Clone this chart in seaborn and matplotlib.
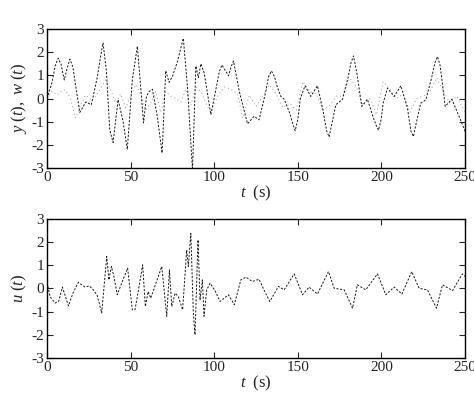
import matplotlib
matplotlib.use('Agg')
import matplotlib.pyplot as plt
import seaborn as sns
import pandas as pd

# y(t): system output (dashed)
y_t = [0, 3, 5, 6.7, 8.5, 10.3, 12, 13.7, 15.5, 17, 19.6, 23.2, 26.5, 30, 32, 33.5, 35.5,
       37.5, 39.5, 42.5, 45.5, 48, 51, 54, 56, 57.7, 59.5, 61, 63, 66, 68.8, 71, 73, 75, 78,
       81.5, 84, 87, 89, 90.5, 92, 94, 96, 98, 101, 103, 104.6, 108.5, 110, 111.5, 115,
       119.9, 123.8, 126.8, 130.5, 132.5, 134.2, 136, 137.5, 139.8, 141.8, 145, 147,
       148.4, 150, 151.5, 154.3, 157.7, 161.7, 165, 167.2, 168.7, 170.3, 172.7, 176.7,
       180, 181.8, 183.3, 185.5, 188.2, 191.6, 195, 196.8, 198.2, 199.8, 201, 203.6,
       207.6, 211.6, 215.5, 217.6, 219.1, 220.8, 223.5, 226.5, 230, 232, 233.5, 235,
       236.5, 238.1, 242.1, 246, 250]
y_v = [0, 0.7, 1.45, 1.74, 1.45, 0.8, 1.3, 1.7, 1.35, 0.6, -0.6, -0.15, -0.27, 0.9, 1.8,
       2.4, 1.2, -1.35, -1.9, -0.05, -1.0, -2.2, 0.8, 2.25, 0.5, -1.05, 0.1, 0.3, 0.4,
       -0.8, -2.35, 1.2, 0.7, 0.95, 1.6, 2.6, 0.5, -3.1, 1.4, 0.9, 1.5, 1.1, 0.2, -0.7,
       0.4, 1.15, 1.45, 0.98, 1.35, 1.62, 0.3, -1.09, -0.77, -0.92, 0.2, 0.95, 1.19,
       0.95, 0.55, 0.09, -0.03, -0.6, -1.1, -1.39, -0.9, 0.0, 0.55, 0.09, 0.55, -0.5,
       -1.4, -1.66, -1.1, -0.27, -0.03, 0.9, 1.55, 1.84, 1.0, -0.34, -0.03, -0.8, -1.15,
       -1.37, -0.9, -0.2, 0.45, 0.09, 0.55, -0.4, -1.4, -1.64, -1.05, -0.2, -0.06, 0.9,
       1.55, 1.81, 1.45, 0.6, -0.34, -0.03, -0.7, -1.42]

# w(t): dotted grey
w_t = [0, 3, 6, 9, 11, 14, 17, 20, 23, 27, 31, 35, 38, 41, 44, 47, 50, 53, 56, 59, 62, 65,
       68, 71, 74, 77, 80, 83, 86, 89, 92, 95, 98, 102, 106, 110, 114, 117, 121, 125, 129,
       133, 137, 141, 145, 149, 153, 157, 161, 165, 169, 173, 177, 181, 185, 189, 193, 197,
       201, 205, 209, 213, 217, 221, 225, 229, 233, 237, 241, 245, 250]
w_v = [0, 0.3, 0.15, 0.35, 0.37, 0.0, -0.84, -0.3, 0.15, -0.1, 0.3, 0.8, 0.4, -0.2, 0.2,
       -0.4, 0.1, 0.6, 0.2, -0.5, -0.2, 0.3, -0.6, 0.3, 0.1, 0.0, -0.15, 0.4, -0.3, 0.5,
       0.3, -0.2, -0.6, 0.1, 0.5, 0.4, 0.2, -0.85, 0.15, -0.35, 0.1, 0.6, 0.2, -0.4, -0.2,
       -0.5, 0.73, 0.3, 0.2, -0.5, -0.3, 0.1, 0.1, 0.88, 0.5, -0.3, 0.0, -0.7, 0.73, 0.4,
       0.0, 0.2, -0.6, 0.0, 0.1, 0.3, 0.9, 0.3, -0.2, 0.1, -0.6]

# u(t): control input (dashed)
u_t = [0, 1.8, 4.8, 7, 9.2, 12.8, 15.5, 18.7, 22.7, 25.3, 27.7, 30, 32.7, 35.7, 37, 38.5,
       40, 42, 45, 48.2, 51, 52.6, 54, 57.2, 58.8, 60.5, 62, 65, 68.6, 71.6, 73.2, 74.6,
       76.6, 78.5, 81.1, 83.5, 84.5, 86, 87.5, 88.5, 90.3, 91.5, 92.9, 93.9, 95.5, 97.5,
       100.5, 103.5, 108.5, 112, 115.9, 118.9, 122.8, 126.8, 130, 133.2, 138.4, 141.8,
       147.8, 152.8, 156.7, 161.7, 168.3, 171.7, 177.7, 182.7, 185.6, 190.6, 197.6, 202.6,
       207.6, 212.2, 218.1, 222.5, 227.5, 232.9, 236.5, 242.5, 248.4, 250]
u_v = [0.25, -0.35, -0.63, -0.55, 0.06, -0.75, -0.2, 0.26, 0.06, 0.11, -0.06, -0.3, -1.06,
       1.38, 0.37, 0.95, 0.52, -0.27, 0.3, 0.88, -0.92, -0.92, -0.35, 1.02, -0.78, -0.13,
       -0.42, 0.2, 0.95, -1.2, 0.8, -0.78, -0.2, -0.35, -0.92, 1.66, 0.95, 2.38, -1.06,
       -2.0, 2.1, -0.5, 0.37, -1.2, -0.06, 0.23, -0.1, -0.56, -0.27, -0.7, 0.37, 0.49, 0.3,
       0.4, -0.1, -0.56, 0.09, -0.06, 0.63, -0.27, 0.06, -0.24, 0.73, 0.01, -0.06, -0.85,
       0.16, -0.06, 0.63, -0.27, 0.06, -0.24, 0.73, 0.01, -0.06, -0.85, 0.16, -0.09, 0.63,
       0.52]

x_ticks = [0, 50, 100, 150, 200, 250]
y_ticks = [-3, -2, -1, 0, 1, 2, 3]

sns.set_style('ticks')
plt.rcParams['font.family'] = ['Liberation Serif', 'DejaVu Serif']
plt.rcParams['mathtext.fontset'] = 'custom'
plt.rcParams['mathtext.rm'] = 'Liberation Serif'
plt.rcParams['mathtext.it'] = 'Liberation Serif:italic'
plt.rcParams['axes.unicode_minus'] = False
plt.rcParams['font.size'] = 10

df_y = pd.DataFrame({'t': y_t, 'v': y_v})
df_w = pd.DataFrame({'t': w_t, 'v': w_v})
df_u = pd.DataFrame({'t': u_t, 'v': u_v})

fig = plt.figure(figsize=(4.74, 3.93), dpi=100)
ax1 = fig.add_axes([0.0992, 0.5725, 0.882, 0.3537])
ax2 = fig.add_axes([0.0992, 0.0891, 0.882, 0.3537])

sns.lineplot(data=df_w, x='t', y='v', ax=ax1, color='0.6', lw=0.7,
             linestyle=(0, (1, 3)))
sns.lineplot(data=df_y, x='t', y='v', ax=ax1, color='0.1', lw=0.7,
             linestyle=(0, (2.2, 1.6)))
sns.lineplot(data=df_u, x='t', y='v', ax=ax2, color='0.1', lw=0.7,
             linestyle=(0, (2.2, 1.6)))

for ax in (ax1, ax2):
    ax.set_xlim(0, 250)
    ax.set_ylim(-3, 3)
    ax.set_xticks(x_ticks)
    ax.set_yticks(y_ticks)
    ax.tick_params(direction='in', top=True, right=True, length=4, width=0.8,
                   labelsize=11, pad=2)
    for s in ax.spines.values():
        s.set_linewidth(1.0)
        s.set_color('k')
    ax.set_xlabel(r'$t\ \ (\mathrm{s})$', fontsize=12, labelpad=0)

ax1.set_ylabel(r'$y\ (t),\ w\ (t)$', fontsize=12, labelpad=2)
ax2.set_ylabel(r'$u\ (t)$', fontsize=12, labelpad=2)

fig.savefig('out.png', dpi=100)
